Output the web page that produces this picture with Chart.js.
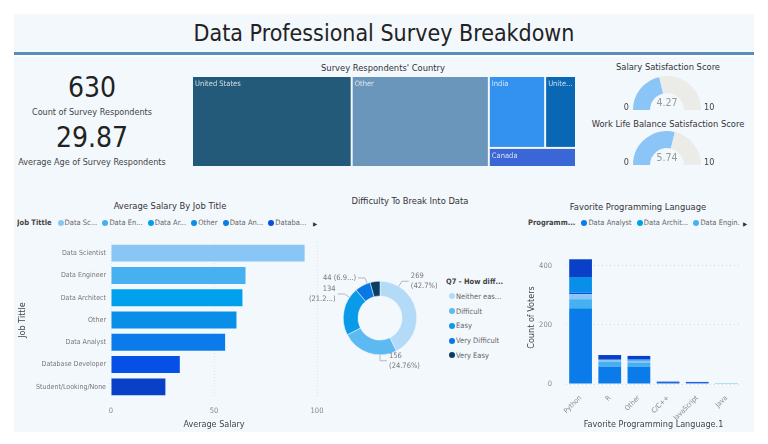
<!DOCTYPE html>
<html>
<head>
<meta charset="utf-8">
<script src="https://cdn.jsdelivr.net/npm/chart.js@4.4.1/dist/chart.umd.min.js"></script>
<style>
  body { margin: 0; background: #fff; width: 768px; height: 444px; position: relative; overflow: hidden;
         font-family: 'DejaVu Sans Condensed', sans-serif; color: #333; }
  .p { position: absolute; background: #f3f8fd; }
  .t { position: absolute; white-space: nowrap; text-align: center; }
  .h { font-size: 9.3px; color: #333; }
  canvas { position: absolute; }
  .lg { position: absolute; white-space: nowrap; overflow: hidden; font-size: 7.5px; color: #666; line-height: 12px; }
  .lg b { color: #444; margin-right: 3px; }
  .dot { display: inline-block; width: 6px; height: 6px; border-radius: 50%; margin: 0 1px 0 3px; vertical-align: -0.5px; }
  .arrow { position: absolute; font-size: 6px; color: #333; }
</style>
</head>
<body>
<div class="p" style="left:14px;top:14px;width:740px;height:38px"></div>
<div style="position:absolute;left:14px;top:52px;width:740px;height:3px;background:#5b8dbd"></div>
<div class="t" style="left:14px;top:14px;width:740px;line-height:38px;font-size:23px;color:#222">Data Professional Survey Breakdown</div>

<div class="p" style="left:14px;top:57px;width:740px;height:375px"></div>

<!-- KPI cards -->
<div class="t" style="left:14px;top:73px;width:156px;line-height:30px;font-size:28px;color:#222">630</div>
<div class="t" style="left:14px;top:106px;width:156px;line-height:12px;font-size:9px;color:#444">Count of Survey Respondents</div>
<div class="t" style="left:14px;top:123px;width:156px;line-height:30px;font-size:28px;color:#222">29.87</div>
<div class="t" style="left:14px;top:156px;width:156px;line-height:12px;font-size:9px;color:#444">Average Age of Survey Respondents</div>

<!-- titles -->
<div class="t h" style="left:283px;top:62px;width:200px">Survey Respondents' Country</div>
<div class="t h" style="left:568px;top:61px;width:200px">Salary Satisfaction Score</div>
<div class="t h" style="left:568px;top:118px;width:200px">Work Life Balance Satisfaction Score</div>
<div class="t h" style="left:70px;top:200px;width:200px">Average Salary By Job Title</div>
<div class="t h" style="left:310px;top:195px;width:200px">Difficulty To Break Into Data</div>
<div class="t h" style="left:538px;top:201px;width:200px">Favorite Programming Language</div>

<div class="lg" id="lgSalary" style="left:17px;top:217px;width:294px"></div>
<div class="arrow" style="left:313px;top:220px">&#9654;</div>
<div class="lg" id="lgLang" style="left:528px;top:217px;width:212px"></div>
<div class="arrow" style="left:743px;top:220px">&#9654;</div>
<div class="lg" id="lgDiff" style="left:446px;top:275px;width:70px;line-height:14.8px"></div>

<canvas id="tree" width="384" height="91" style="left:192px;top:76px"></canvas>
<canvas id="g1" width="110" height="44" style="left:612px;top:70px"></canvas>
<canvas id="g2" width="110" height="44" style="left:612px;top:125px"></canvas>
<canvas id="salary" width="309" height="190" style="left:14px;top:240px"></canvas>
<canvas id="diff" width="160" height="112" style="left:300px;top:262px"></canvas>
<canvas id="lang" width="232" height="185" style="left:522px;top:245px"></canvas>

<script>
// ---- data ----
const countries = ['United States', 'Other', 'India', 'United Kingdom', 'Canada'];
const countryCounts = [262, 225, 73, 40, 30];

const gaugeTitles = ['Salary Satisfaction Score', 'Work Life Balance Satisfaction Score'];
const gaugeValues = [4.27, 5.74];
const gaugeMax = 10;

const jobTitles = ['Data Scientist', 'Data Engineer', 'Data Architect', 'Other', 'Data Analyst', 'Database Developer', 'Student/Looking/None'];
const avgSalary = [94.0, 65.3, 63.8, 60.9, 55.4, 33.4, 26.4];

const difficultyLabels = ['Neither easy nor difficult', 'Difficult', 'Easy', 'Very Difficult', 'Very Easy'];
const difficultyCounts = [269, 156, 134, 44, 27];
const difficultyPctText = ['42.7%', '24.76%', '21.2...', '6.9...', '4.29%'];

const languages = ['Python', 'R', 'Other', 'C/C++', 'JavaScript', 'Java'];
const roles = ['Data Analyst', 'Data Architect', 'Data Engineer', 'Data Scientist', 'Database Developer', 'Other', 'Student/Looking/None'];
const votesDataAnalyst      = [254, 59, 58, 4, 3, 0];
const votesDataArchitect    = [3, 0, 0, 0, 0, 0];
const votesDataEngineer     = [30, 17, 15, 0, 0, 3];
const votesDataScientist    = [17, 6, 6, 0, 0, 0];
const votesDatabaseDev      = [5, 0, 2, 0, 1, 0];
const votesOther            = [53, 0, 3, 0, 0, 0];
const votesStudent          = [60, 16, 11, 4, 3, 0];

// ---- styles ----
const F = "'DejaVu Sans Condensed', sans-serif";
Chart.defaults.font.family = F;
Chart.defaults.color = '#777';
const countryColors = ['#245a79', '#6a96bb', '#3391ef', '#0a67b4', '#3b67d6'];
const jobColors = ['#89c6f6', '#47b0f0', '#00a0ee', '#0a8fe8', '#0a7be9', '#0550e6', '#0a3fc8'];
const roleColors = ['#0a7be9', '#00a0ee', '#47b0f0', '#89c6f6', '#0550e6', '#0a8fe8', '#0a3fc8'];
const diffColors = ['#b3dbf8', '#5cb9f1', '#0a9be8', '#0a78e4', '#0b3c62'];

const measure = document.createElement('canvas').getContext('2d');
function fit(text, font, maxW) {
  measure.font = font;
  if (measure.measureText(text).width <= maxW) return text;
  let t = text;
  while (t.length > 1 && measure.measureText(t + '...').width > maxW) t = t.slice(0, -1);
  return t.trim() + '...';
}

function buildLegend(id, title, titleW, names, colors, maxW, vertical) {
  const el = document.getElementById(id);
  const font = '7.5px ' + F;
  let html = '<b>' + fit(title, 'bold ' + font, titleW) + '</b>' + (vertical ? '<br>' : '');
  names.forEach((n, i) => {
    html += '<span class="dot" style="background:' + colors[i] + '"></span>' + fit(n, font, maxW) + (vertical ? '<br>' : ' ');
  });
  el.innerHTML = html;
}
buildLegend('lgSalary', 'Job Tittle', 200, jobTitles, jobColors, 34, false);
buildLegend('lgLang', 'Programming Language', 48, roles, roleColors, 46, false);
buildLegend('lgDiff', 'Q7 - How difficult was it for you to break into Data?', 58, difficultyLabels, diffColors, 48, true);

// no extra room for overhanging tick labels
function noPad(s) { s.paddingLeft = 0; s.paddingRight = 0; s.paddingTop = 0; s.paddingBottom = 0; }

// ---- treemap ----
const treemapPlugin = {
  id: 'treemap',
  afterDatasetsDraw(chart) {
    const { ctx, scales: { x, y } } = chart;
    const total = countryCounts.reduce((a, b) => a + b, 0);
    const n = countryCounts.length;
    const rects = [];
    let x0 = 0;
    for (let i = 0; i < n - 3; i++) {
      const w = countryCounts[i] / total;
      rects.push([x0, 0, x0 + w, 1]);
      x0 += w;
    }
    const rest = countryCounts.slice(n - 3);
    const topSum = rest[0] + rest[1];
    const hTop = topSum / (topSum + rest[2]);
    let xx = x0;
    for (let j = 0; j < 2; j++) {
      const w = (1 - x0) * rest[j] / topSum;
      rects.push([xx, 0, xx + w, hTop]);
      xx += w;
    }
    rects.push([x0, hTop, 1, 1]);
    ctx.save();
    rects.forEach((r, i) => {
      const px0 = x.getPixelForValue(r[0]) + 1, px1 = x.getPixelForValue(r[2]) - 1;
      const py0 = y.getPixelForValue(r[1]) + 1, py1 = y.getPixelForValue(r[3]) - 1;
      ctx.fillStyle = countryColors[i];
      ctx.fillRect(px0, py0, px1 - px0, py1 - py0);
      const font = '7.5px ' + F;
      ctx.font = font;
      ctx.fillStyle = 'rgba(255,255,255,0.8)';
      ctx.textBaseline = 'top';
      ctx.fillText(fit(countries[i], font, px1 - px0 - 4), px0 + 2, py0 + 3);
    });
    ctx.restore();
  }
};
new Chart(document.getElementById('tree'), {
  type: 'scatter',
  data: { datasets: [{ data: [] }] },
  options: {
    responsive: false, animation: false,
    plugins: { legend: { display: false }, tooltip: { enabled: false } },
    scales: {
      x: { display: false, min: 0, max: 1 },
      y: { display: false, min: 0, max: 1, reverse: true }
    }
  },
  plugins: [treemapPlugin]
});

// ---- gauges ----
const gaugeText = {
  id: 'gaugeText',
  afterDatasetsDraw(chart) {
    const arc = chart.getDatasetMeta(0).data[0];
    const { ctx } = chart;
    ctx.save();
    ctx.textBaseline = 'alphabetic';
    ctx.font = '9px ' + F;
    ctx.fillStyle = '#444';
    ctx.textAlign = 'right';
    ctx.fillText('0', arc.x - arc.outerRadius - 4, arc.y);
    ctx.textAlign = 'left';
    ctx.fillText(String(gaugeMax), arc.x + arc.outerRadius + 3, arc.y);
    ctx.textAlign = 'center';
    ctx.font = '10.5px ' + F;
    ctx.fillStyle = '#999';
    ctx.fillText(chart.data.datasets[0].data[0].toFixed(2), arc.x, arc.y - 4);
    ctx.restore();
  }
};
['g1', 'g2'].forEach((id, i) => {
  new Chart(document.getElementById(id), {
    type: 'doughnut',
    data: { labels: [gaugeTitles[i], ''], datasets: [{ data: [gaugeValues[i], gaugeMax - gaugeValues[i]], backgroundColor: ['#8bc4f6', '#ebebe8'], borderWidth: 0 }] },
    options: {
      responsive: false, animation: false, rotation: -90, circumference: 180, cutout: '50%',
      layout: { padding: { left: 21, right: 21, top: 6, bottom: 4 } },
      plugins: { legend: { display: false }, tooltip: { enabled: false } }
    },
    plugins: [gaugeText]
  });
});

// ---- average salary bars ----
new Chart(document.getElementById('salary'), {
  type: 'bar',
  data: { labels: jobTitles, datasets: [{ data: avgSalary, backgroundColor: jobColors, barPercentage: 0.76, categoryPercentage: 1 }] },
  options: {
    indexAxis: 'y', responsive: false, animation: false,
    layout: { padding: { top: 2, right: 6 } },
    plugins: { legend: { display: false }, tooltip: { enabled: false } },
    scales: {
      x: {
        min: 0, max: 100,
        ticks: { stepSize: 50, font: { size: 7.5 }, color: '#888', padding: 9 },
        grid: { color: 'rgba(0,0,0,0.07)', drawTicks: false },
        border: { display: false, dash: [1, 2] },
        title: { display: true, text: 'Average Salary', color: '#444', font: { size: 9 }, padding: 0 },
        afterFit(s) { s.height = 32; noPad(s); }
      },
      y: {
        grid: { display: false, drawTicks: false }, border: { display: false },
        ticks: { font: { size: 7 }, color: '#777', padding: 5 },
        title: { display: true, text: 'Job Tittle', color: '#444', font: { size: 9 }, padding: 3 },
        afterFit(s) { s.width = 97; noPad(s); }
      }
    }
  }
});

// ---- difficulty donut ----
const donutLabels = {
  id: 'donutLabels',
  afterDatasetsDraw(chart) {
    const { ctx } = chart;
    const meta = chart.getDatasetMeta(0);
    const total = difficultyCounts.reduce((a, b) => a + b, 0);
    ctx.save();
    ctx.font = '7.5px ' + F;
    ctx.fillStyle = '#777';
    ctx.strokeStyle = '#aaa';
    ctx.lineWidth = 0.8;
    meta.data.forEach((arc, i) => {
      const share = difficultyCounts[i] / total;
      if (share < 0.05) return;
      // angles clockwise from top; pull the anchor toward the nearest pole, inside the slice
      const a0 = arc.startAngle + Math.PI / 2, a1 = arc.endAngle + Math.PI / 2;
      const mid = (a0 + a1) / 2;
      const pole = Math.round(mid / Math.PI) * Math.PI;
      const span = a1 - a0;
      const a = Math.min(Math.max(pole, a0 + 0.2 * span), a1 - 0.2 * span);
      const s = Math.sin(a), c = -Math.cos(a);
      const R = arc.outerRadius;
      const ax = arc.x + R * s, ay = arc.y + R * c;
      const ex = arc.x + (R + 6) * s, ey = arc.y + (R + 6) * c;
      const side = s > -0.01 ? 1 : -1;
      const hx = ex + side * 7;
      ctx.beginPath(); ctx.moveTo(ax, ay); ctx.lineTo(ex, ey); ctx.lineTo(hx, ey); ctx.stroke();
      ctx.textAlign = side > 0 ? 'left' : 'right';
      ctx.textBaseline = 'middle';
      const tx = hx + side * 2;
      const v = String(difficultyCounts[i]), p = '(' + difficultyPctText[i] + ')';
      if (share < 0.1) {
        ctx.fillText(v + ' ' + p, tx, ey);
      } else {
        ctx.fillText(v, tx, ey - 5);
        ctx.fillText(p, tx, ey + 5);
      }
    });
    ctx.restore();
  }
};
new Chart(document.getElementById('diff'), {
  type: 'doughnut',
  data: { labels: difficultyLabels, datasets: [{ data: difficultyCounts, backgroundColor: diffColors, borderWidth: 0.5, borderColor: '#f3f8fd' }] },
  options: {
    responsive: false, animation: false, cutout: '60%',
    layout: { padding: { top: 19, bottom: 19, left: 40, right: 40 } },
    plugins: { legend: { display: false }, tooltip: { enabled: false } }
  },
  plugins: [donutLabels]
});

// ---- favourite language stacked bars ----
const roleVotes = [votesDataAnalyst, votesDataArchitect, votesDataEngineer, votesDataScientist, votesDatabaseDev, votesOther, votesStudent];
new Chart(document.getElementById('lang'), {
  type: 'bar',
  data: {
    labels: languages,
    datasets: roles.map((r, i) => ({ label: r, data: roleVotes[i], backgroundColor: roleColors[i], barPercentage: 0.78, categoryPercentage: 1 }))
  },
  options: {
    responsive: false, animation: false,
    layout: { padding: { top: 6, right: 13 } },
    plugins: { legend: { display: false }, tooltip: { enabled: false } },
    scales: {
      x: {
        stacked: true, grid: { display: false }, border: { display: false },
        ticks: { minRotation: 45, maxRotation: 45, font: { size: 7 }, color: '#888', padding: 2 },
        title: { display: true, text: 'Favorite Programming Language.1', color: '#444', font: { size: 9 }, padding: 0 },
        afterFit(s) { s.height = 46; noPad(s); }
      },
      y: {
        stacked: true, min: 0, max: 450,
        ticks: { stepSize: 200, font: { size: 7.5 }, color: '#888', padding: 14 },
        afterBuildTicks(s) { s.ticks = s.ticks.filter(t => t.value % 200 === 0); },
        grid: { color: 'rgba(0,0,0,0.12)', drawTicks: false },
        border: { display: false, dash: [1, 3] },
        title: { display: true, text: 'Count of Voters', color: '#444', font: { size: 9 }, padding: 4 },
        afterFit(s) { s.width = 44; noPad(s); }
      }
    }
  }
});
</script>
</body>
</html>
